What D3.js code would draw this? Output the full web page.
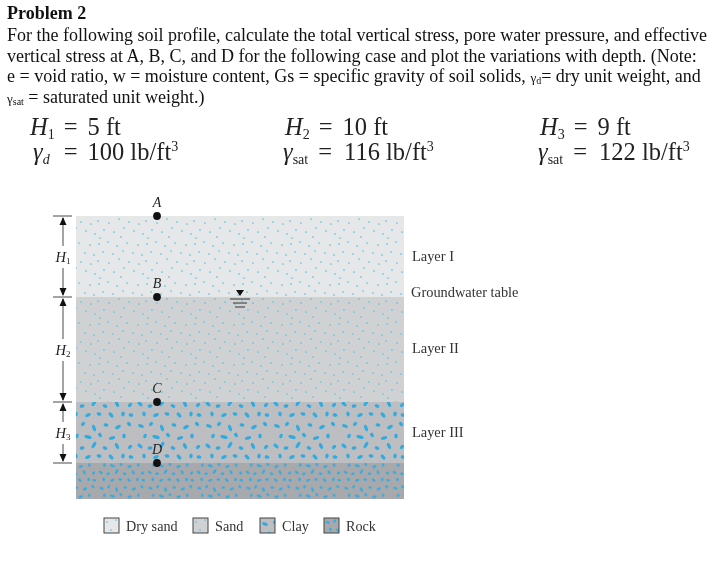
<!DOCTYPE html>
<html>
<head>
<meta charset="utf-8">
<script src="https://cdn.jsdelivr.net/npm/d3@7/dist/d3.min.js"></script>
<style>
  html, body { margin: 0; padding: 0; background: #fff; }
  svg { display: block; font-family: "Liberation Serif", serif; filter: blur(0.35px); }
</style>
</head>
<body>
<div id="app"></div>
<script>
// values
const layerNames = ["Dry sand", "Sand", "Clay", "Rock"];
const layerThickness = [5, 10, 9, 5.3]; // ft, the rock thickness is only estimated from the drawing
const layerLabels = ["Layer I", "Layer II", "Layer III"];
const layerLabelDepths = [2.8, 10.3, 20.2];
const pointNames = ["A", "B", "C", "D"];
const pointDepths = [0, 5, 15, 24];
const dimNames = ["1", "2", "3"];
const waterDepth = 5;

const problemTitle = "Problem 2";
const problemLines = [
  "For the following soil profile, calculate the total vertical stress, pore water pressure, and effective",
  "vertical stress at A, B, C, and D for the following case and plot the variations with depth. (Note:",
  "e = void ratio, w = moisture content, Gs = specific gravity of soil solids, |d|= dry unit weight, and",
  "|sat| = saturated unit weight.)"
];
const givenHeights = ["5 ft", "10 ft", "9 ft"];
const givenGammaSubs = ["d", "sat", "sat"];
const givenGammaValues = ["100 lb/ft", "116 lb/ft", "122 lb/ft"];

// hand placed texture tiles
const sandSpecks = [[3,4],[12,2],[21,6],[31,3],[42,5],[7,12],[17,14],[27,11],[37,13],[46,15],
  [2,21],[13,23],[23,19],[33,22],[43,24],[8,30],[18,32],[28,28],[38,31],[47,34],[4,38],[25,37]];
const clayBlobs = [[5,6,20,3],[15,4,-50,2.4],[26,8,70,3.4],[38,5,10,2.4],[50,7,-30,3.2],[61,4,45,2.4],
  [9,16,-70,2.4],[20,17,15,3.8],[32,15,55,2.4],[44,18,-20,3.2],[56,16,80,2.4],[4,26,40,3],[14,28,-15,2.4],
  [26,25,-60,3.6],[37,28,25,2.4],[49,26,65,3.2],[62,27,-40,2.4],[8,36,75,2.4],[20,37,-25,3],[31,36,10,2.4],
  [43,37,50,3],[55,36,-75,2.4],[63,37,15,2.4]];

const W = 720, H = 563;

const depths = [0];
layerThickness.forEach(d => depths.push(depths[depths.length - 1] + d));

// the drawing is not to scale, so depth goes through a piecewise scale
const y = d3.scaleLinear().domain(depths).range([216, 297, 402, 463, 499]);
const x = d3.scaleLinear().domain([0, 1]).range([76, 404]);
const pointX = x(0.247);

const svg = d3.select("#app").append("svg").attr("width", W).attr("height", H);
const defs = svg.append("defs");

function tilePattern(id, bg, w, h, scale) {
  const p = defs.append("pattern").attr("id", id)
    .attr("patternUnits", "userSpaceOnUse")
    .attr("width", w).attr("height", h)
    .attr("patternTransform", "scale(" + scale + ")");
  p.append("rect").attr("width", w).attr("height", h).attr("fill", bg);
  return p;
}

const patSpecs = [
  {id: "Dry sand", bg: "#e6e7e9", kind: "speck"},
  {id: "Sand", bg: "#d0d1d3", kind: "speck"},
  {id: "Clay", bg: "#bdbec1", kind: "blob", scale: 1},
  {id: "Rock", bg: "#a8a9ac", kind: "blob", scale: 0.72}
];
patSpecs.forEach(s => {
  const id = "pat-" + s.id.replace(" ", "");
  if (s.kind == "speck") {
    const p = tilePattern(id, s.bg, 48, 40, 1);
    p.selectAll("circle").data(sandSpecks).enter().append("circle")
      .attr("cx", d => d[0]).attr("cy", d => d[1]).attr("r", 0.85)
      .attr("fill", "#5cc0e8");
  } else {
    const p = tilePattern(id, s.bg, 68, 42, s.scale);
    p.selectAll("ellipse").data(clayBlobs).enter().append("ellipse")
      .attr("rx", d => d[3]).attr("ry", 1.7)
      .attr("transform", d => "translate(" + d[0] + "," + d[1] + ")rotate(" + d[2] + ")")
      .attr("fill", "#2fabe2");
  }
});

const patUrl = name => "url(#pat-" + name.replace(" ", "") + ")";

// header text
const head = svg.append("g").attr("fill", "#111");
head.append("text").attr("x", 7).attr("y", 19)
  .attr("font-size", 18).attr("font-weight", "bold").text(problemTitle);

const lineY = d3.scalePoint().domain(d3.range(problemLines.length)).range([41, 103]);
problemLines.forEach((line, i) => {
  const t = head.append("text").attr("x", 7).attr("y", lineY(i)).attr("font-size", 18);
  let back = 0;
  line.split("|").forEach((part, k) => {
    if (k % 2 == 0) {
      const s = t.append("tspan").text(part);
      if (back) s.attr("dy", -back);
      back = 0;
    } else {
      t.append("tspan").attr("font-size", 13).text("γ");
      t.append("tspan").attr("font-size", 10).attr("dy", 2).text(part);
      back = 2;
    }
  });
});

// given values
const colX = d3.scalePoint().domain([0, 1, 2]).range([30, 540]);
givenHeights.forEach((txt, i) => {
  const a = head.append("text").attr("x", colX(i)).attr("y", 135).attr("font-size", 24.5).attr("fill", "#222");
  a.append("tspan").attr("font-style", "italic").text("H");
  a.append("tspan").attr("font-size", 14).attr("dy", 4).text(dimNames[i]);
  a.append("tspan").attr("dy", -4).attr("dx", 9).text("=");
  a.append("tspan").attr("dx", 10).text(txt);

  const b = head.append("text").attr("x", colX(i) + (i ? -2 : 3)).attr("y", 160).attr("font-size", 24.5).attr("fill", "#222");
  b.append("tspan").attr("font-style", "italic").text("γ");
  b.append("tspan").attr("font-size", 14).attr("font-style", i ? "normal" : "italic").attr("dy", 4).text(givenGammaSubs[i]);
  b.append("tspan").attr("dy", -4).attr("dx", i ? 10 : 14).text("=");
  b.append("tspan").attr("dx", i ? 12 : 10).text(givenGammaValues[i]);
  b.append("tspan").attr("font-size", 14).attr("dy", -9).text("3");
});

// soil layers
const plot = svg.append("g");
plot.selectAll("rect.layer").data(layerNames).enter().append("rect")
  .attr("class", "layer")
  .attr("x", x(0)).attr("width", x(1) - x(0))
  .attr("y", (d, i) => y(depths[i]))
  .attr("height", (d, i) => y(depths[i + 1]) - y(depths[i]))
  .attr("fill", d => patUrl(d));

// points
plot.selectAll("circle.pt").data(pointDepths).enter().append("circle")
  .attr("class", "pt").attr("cx", pointX).attr("cy", d => y(d)).attr("r", 3.9).attr("fill", "#111");
plot.selectAll("text.pt").data(pointNames).enter().append("text")
  .attr("class", "pt").attr("x", pointX).attr("y", (d, i) => y(pointDepths[i]) - 9)
  .attr("text-anchor", "middle").attr("font-size", 14).attr("font-style", "italic")
  .attr("fill", "#222").text(d => d);

// groundwater symbol
const wy = y(waterDepth), wx = x(0.5);
const water = plot.append("g").attr("stroke", "#333");
water.append("path").attr("stroke", "none").attr("fill", "#111")
  .attr("d", d3.line()([[wx - 4, wy - 7], [wx + 4, wy - 7], [wx, wy - 1]]) + "Z");
[[10, 2], [7, 6], [5, 10]].forEach(r => {
  water.append("line").attr("x1", wx - r[0]).attr("x2", wx + r[0])
    .attr("y1", wy + r[1]).attr("y2", wy + r[1]).attr("stroke-width", 1);
});

// dimension marks on the left
const dims = svg.append("g").attr("stroke", "#333").attr("fill", "none").attr("stroke-width", 0.9);
const dimX = 63;
depths.slice(0, 4).forEach(d => {
  dims.append("line").attr("x1", 53).attr("x2", 72).attr("y1", y(d)).attr("y2", y(d));
});
dimNames.forEach((n, i) => {
  const top = y(depths[i]), bot = y(depths[i + 1]);
  const mid = (top + bot) / 2 + 1.5;
  dims.append("line").attr("x1", dimX).attr("x2", dimX).attr("y1", top + 2).attr("y2", mid - 12);
  dims.append("line").attr("x1", dimX).attr("x2", dimX).attr("y1", mid + 10).attr("y2", bot - 2);
  dims.append("path").attr("fill", "#111").attr("stroke", "none")
    .attr("d", d3.line()([[dimX, top + 1], [dimX - 3.5, top + 9], [dimX + 3.5, top + 9]]) + "Z");
  dims.append("path").attr("fill", "#111").attr("stroke", "none")
    .attr("d", d3.line()([[dimX, bot - 1], [dimX - 3.5, bot - 9], [dimX + 3.5, bot - 9]]) + "Z");
  const t = svg.append("text").attr("x", dimX).attr("y", mid + 4)
    .attr("text-anchor", "middle").attr("font-size", 14.5).attr("fill", "#222");
  t.append("tspan").attr("font-style", "italic").text("H");
  t.append("tspan").attr("font-size", 9).attr("dy", 2).text(n);
});

// labels on the right
svg.selectAll("text.lay").data(layerLabels).enter().append("text")
  .attr("class", "lay").attr("x", x(1) + 8)
  .attr("y", (d, i) => y(layerLabelDepths[i]))
  .attr("font-size", 14.4).attr("fill", "#333").text(d => d);
svg.append("text").attr("x", x(1) + 7).attr("y", y(waterDepth))
  .attr("font-size", 14.4).attr("fill", "#333").text("Groundwater table");

// legend
const legendX = d3.scaleOrdinal().domain(layerNames).range([104, 193, 260, 324]);
const leg = svg.append("g").selectAll("g").data(layerNames).enter().append("g")
  .attr("transform", d => "translate(" + legendX(d) + ",518)");
leg.append("rect").attr("width", 15).attr("height", 15)
  .attr("fill", d => patUrl(d)).attr("stroke", "#444").attr("stroke-width", 1);
leg.append("text").attr("x", 22).attr("y", 13).attr("font-size", 14.2)
  .attr("fill", "#333").text(d => d);
</script>
</body>
</html>
